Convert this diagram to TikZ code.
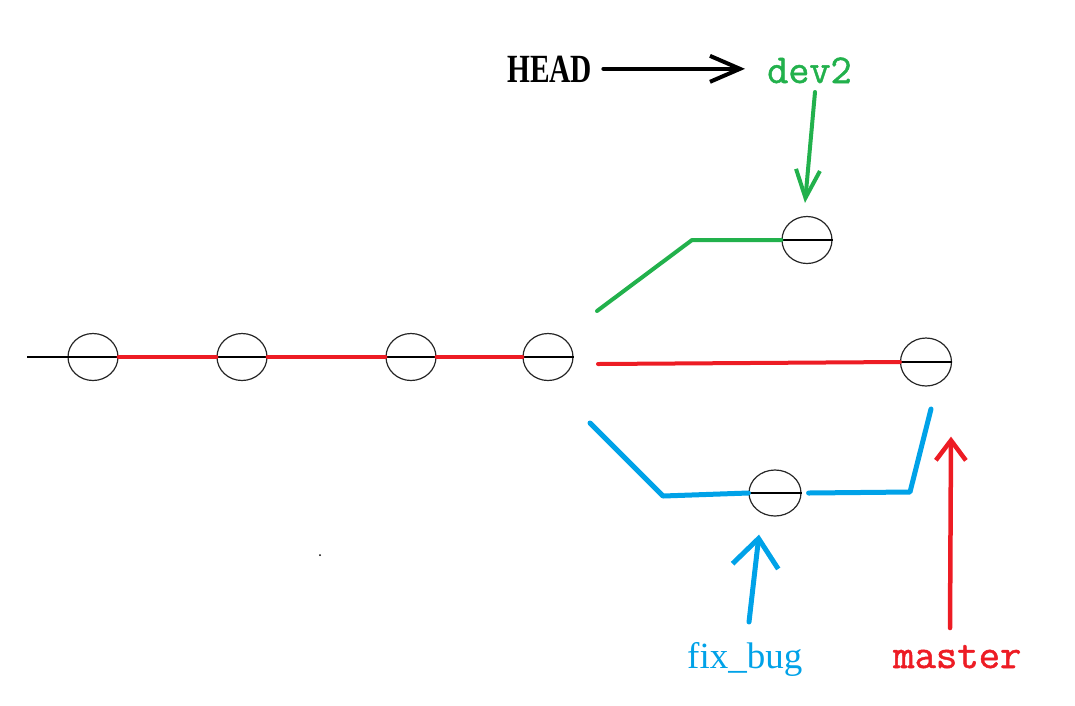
\documentclass[tikz,border=0pt]{standalone}
\usepackage{fontspec}
\setmainfont{Liberation Serif}
\newfontfamily\heavymono{Latin Modern Mono}[FakeBold=1.2]
\usepackage{graphicx}
\usetikzlibrary{arrows.meta,shapes.geometric}
\definecolor{gitred}{HTML}{ED1C24}
\definecolor{gitgreen}{HTML}{22B14C}
\definecolor{gitblue}{HTML}{00A2E8}
\begin{document}
\begin{tikzpicture}[x=1pt,y=-1pt,
  commit/.style={draw=black!85, line width=1.2pt, ellipse, minimum width=50pt, minimum height=47pt, inner sep=0pt},
  diam/.style={black, line width=1.2pt},
  redline/.style={gitred, line width=4pt, line cap=round},
  greenline/.style={gitgreen, line width=4pt, line cap=round, line join=round},
  blueline/.style={gitblue, line width=5pt, line cap=round, line join=round},
  lbl/.style={anchor=base west, inner sep=0pt}
]
\useasboundingbox (0,0) rectangle (1075,705);

% commits on the main line
\node[commit] (c1) at (93,357) {};
\node[commit] (c2) at (242,357) {};
\node[commit] (c3) at (411,357) {};
\node[commit] (c4) at (548,357) {};
% branch tips
\node[commit] (cd) at (807,240) {};
\node[commit, minimum width=51pt, minimum height=48pt] (cm) at (926,362) {};
\node[commit, minimum width=52pt, minimum height=46pt] (cf) at (775,493) {};

% diameters
\coordinate (start) at (27,357);
\draw[diam] (start) -- (c1.west);
\foreach \c in {c1,c2,c3,c4,cd,cm,cf} {\draw[diam] (\c.west) -- (\c.east);}

% red history
\draw[redline] (c1.east) -- (c2.west);
\draw[redline] (c2.east) -- (c3.west);
\draw[redline] (c3.east) -- (c4.west);
\coordinate (r0) at (598,364);
\draw[redline] (r0) -- (cm.west);

% green branch
\coordinate (g0) at (597,311);
\draw[greenline] (g0) -- (692,240) -- (cd.west);

% blue branch
\coordinate (b0) at (590,423);
\draw[blueline] (b0) -- (663,496) -- (cf.west);
\coordinate (b1) at (931,409);
\draw[blueline] ([xshift=7pt]cf.east) -- (910,492) -- (b1);

% labels
\node[lbl] (head) at (507,82) {\bfseries\fontsize{40}{40}\selectfont\scalebox{0.735}[1]{HEAD}};
\node[lbl, text=gitgreen] (dev2) at (767,83) {\heavymono\fontsize{41}{41}\selectfont dev2};
\node[lbl, text=gitblue] (fixbug) at (687,668) {\fontsize{37}{37}\selectfont fix\_bug};
\node[lbl, text=gitred] (master) at (893,668) {\heavymono\fontsize{41.5}{41.5}\selectfont master};

% pointer arrows
\draw[line width=4pt, line cap=round, -{Straight Barb[length=30pt,width=26pt]}, shorten <=11pt, shorten >=22pt]
  (head.east) -- (head.east -| dev2.west);
\coordinate (dtail) at (815,92);
\draw[gitgreen, line width=4pt, line cap=round, -{Straight Barb[length=28pt,width=24pt]}]
  (dtail) -- ([shift={(-2,-13)}]cd.north);
\coordinate (ftail) at (749,622);
\draw[gitblue, line width=5pt, line cap=round, -{Straight Barb[length=28pt,width=46pt]}]
  (ftail) -- ([shift={(-16,18)}]cf.south);
\coordinate (mtail) at (950,628);
\draw[gitred, line width=4.5pt, line cap=round, -{Straight Barb[length=20pt,width=30pt]}]
  (mtail) -- ([shift={(25,50)}]cm.south);

% stray dot
\fill (320,555) circle (1pt);
\end{tikzpicture}
\end{document}
